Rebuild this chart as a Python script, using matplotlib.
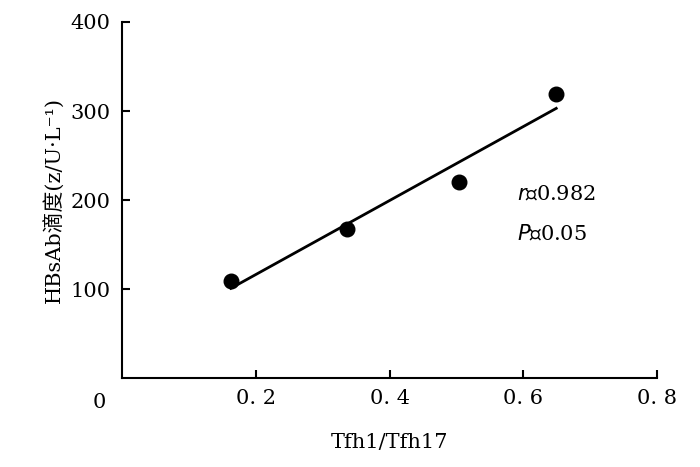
import matplotlib
matplotlib.use("Agg")
import matplotlib.pyplot as plt
import numpy as np

x = [0.163, 0.337, 0.504, 0.649]
y = [109, 168, 220, 319]
fit_x = [0.163, 0.649]
fit_y = [101, 303]
xticks = [0.2, 0.4, 0.6, 0.8]
xlabels = ["0. 2", "0. 4", "0. 6", "0. 8"]
yticks = [100, 200, 300, 400]

plt.rcParams['font.family'] = ['DejaVu Serif', 'Noto Sans CJK SC']
fig = plt.figure(figsize=(7, 4.67), dpi=100)
ax = fig.add_axes([0.174, 0.19, 0.765, 0.763])
ax.scatter(x, y, s=110, color='black', zorder=3)
ax.plot(fit_x, fit_y, color='black', lw=2)
ax.set_xlim(0, 0.8)
ax.set_ylim(0, 400)
ax.spines['top'].set_visible(False)
ax.spines['right'].set_visible(False)
for s in ['left', 'bottom']:
    ax.spines[s].set_linewidth(1.5)
ax.set_xticks(xticks)
ax.set_xticklabels(xlabels, fontsize=15)
ax.set_yticks(yticks)
ax.set_yticklabels([str(v) for v in yticks], fontsize=15)
ax.tick_params(direction='in', length=6, width=1.5, pad=8)
ax.text(-0.033, -16, "0", transform=ax.transData, fontsize=15, ha='center', va='top')
ax.set_xlabel("Tfh1/Tfh17", fontsize=15, labelpad=18)
ax.set_ylabel("HBsAb滴度(z/U·L⁻¹)", fontsize=15,
              family=['DejaVu Serif', 'Noto Sans CJK SC'])
ax.text(0.59, 200, "$r$＝0.982", fontsize=15, family=['DejaVu Serif', 'Noto Sans CJK SC'])
ax.text(0.59, 155, "$P$＜0.05", fontsize=15, family=['DejaVu Serif', 'Noto Sans CJK SC'])
fig.savefig("out.png", dpi=100)
